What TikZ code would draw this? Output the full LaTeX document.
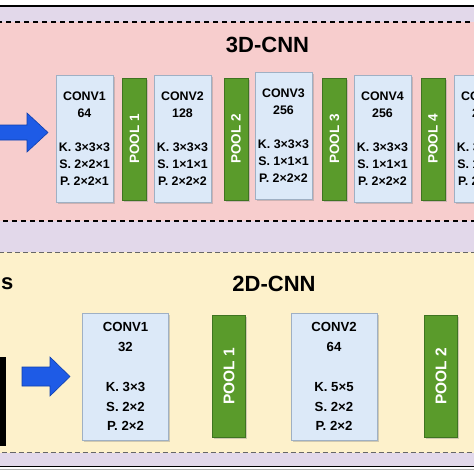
\documentclass[tikz,border=0pt]{standalone}
\usepackage{fontspec}
\setmainfont{Liberation Sans}
\usetikzlibrary{shadows}
\definecolor{bgpurple}{HTML}{E2D8EA}
\definecolor{panelpink}{HTML}{F7CDCD}
\definecolor{panelcream}{HTML}{FDF1CB}
\definecolor{convfill}{HTML}{DCE9F8}
\definecolor{convedge}{HTML}{9FB0C4}
\definecolor{poolfill}{HTML}{5A9B2B}
\definecolor{pooledge}{HTML}{3E7420}
\definecolor{arrowfill}{HTML}{1E5BE6}
\definecolor{arrowedge}{HTML}{0E3FAE}
\begin{document}
\begin{tikzpicture}[x=1pt, y=-1pt,
  shade3d/.style={drop shadow={shadow xshift=1.5pt, shadow yshift=-1.5pt, opacity=0.35}},
  conv/.style={draw=convedge, fill=convfill, shade3d, inner sep=0pt, align=center,
    minimum width=57pt, minimum height=127pt, font=\bfseries\fontsize{12.4}{17}\selectfont},
  convb/.style={conv, minimum width=86pt, font=\bfseries\fontsize{13.2}{19.5}\selectfont},
  pool/.style={draw=pooledge, fill=poolfill, shade3d, text=white, rotate=90, inner sep=0pt,
    minimum width=122pt, minimum height=24pt, font=\bfseries\fontsize{13.5}{16}\selectfont},
  poolb/.style={pool, minimum height=33pt, font=\bfseries\fontsize{15.5}{18}\selectfont},
  title/.style={font=\bfseries\fontsize{22}{26}\selectfont, inner sep=0pt},
  bigarrow/.style={fill=arrowfill, draw=arrowedge, line width=0.6pt}]
\useasboundingbox (0,0) rectangle (474,474);
\clip (0,0) rectangle (474,474);
\fill[white] (0,0) rectangle (474,474);
\fill[bgpurple] (0,7) rectangle (474,466);
\draw[line width=2pt] (0,6) -- (474,6);
\draw[line width=1.6pt] (0,466.5) -- (474,466.5);
\draw[gray!60, line width=1pt] (0,469.5) -- (474,469.5);
% 3D-CNN panel
\filldraw[fill=panelpink, dashed, dash pattern=on 5pt off 4pt, line width=1.3pt] (-5,22) rectangle (479,221);
\node[title] (t3d) at (267.5,45) {3D-CNN};
\draw[bigarrow] (-5,125) -- (27,125) -- (27,113) -- (48,132.5) -- (27,152) -- (27,140) -- (-5,140) -- cycle;
\foreach \n/\x/\y/\f/\k/\s/\p in {1/84.5/138.5/64/3×3×3/2×2×1/2×2×1, 2/182.5/138.5/128/3×3×3/1×1×1/2×2×2,
  3/283.5/135.5/256/3×3×3/1×1×1/2×2×2, 4/382.5/138.5/256/3×3×3/1×1×1/2×2×2, 5/482.5/138.5/256/3×3×3/1×1×1/2×2×2}
  \node[conv] (tc\n) at (\x,\y) {CONV\n\\\f\\[17pt]K. \k\\S. \s\\P. \p};
\foreach \n/\x in {1/134.5, 2/236, 3/334.5, 4/433}
  \node[pool] (tp\n) at (\x,139) {POOL \n};
% 2D-CNN panel
\filldraw[fill=panelcream, draw=gray!80!black, dashed, dash pattern=on 5pt off 3pt, line width=0.9pt] (-5,252) rectangle (479,452.5);
\node[title] (t2d) at (274,284) {2D-CNN};
\node[title, anchor=east] (tin) at (13.5,284) {s};
\fill (-5,357) rectangle (6,446);
\draw[bigarrow] (22,367) -- (50,367) -- (50,357) -- (70,376.5) -- (50,396) -- (50,386) -- (22,386) -- cycle;
\foreach \n/\x/\f/\k in {1/125.5/32/3×3, 2/334/64/5×5}
  \node[convb] (bc\n) at (\x,376.5) {CONV\n\\\f\\[21pt]K. \k\\S. 2×2\\P. 2×2};
\foreach \n/\x in {1/229, 2/441}
  \node[poolb] (bp\n) at (\x,376.5) {POOL \n};
\end{tikzpicture}
\end{document}
